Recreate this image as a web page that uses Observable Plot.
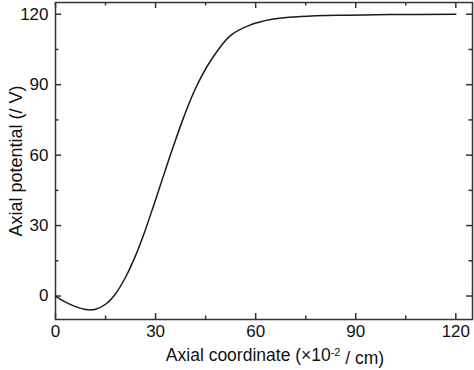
<!DOCTYPE html>
<html>
<head>
<meta charset="utf-8">
<script src="https://cdn.jsdelivr.net/npm/d3@7"></script>
<script src="https://cdn.jsdelivr.net/npm/@observablehq/plot@0.6"></script>
<style>
  html, body { margin: 0; padding: 0; background: #fff; }
  #chart { width: 474px; height: 370px; }
</style>
</head>
<body>
<div id="chart"></div>
<script>
// Data
const axialCoordinate = [0, 3, 6, 9, 10.5, 12, 15, 18, 21, 24, 26.5, 29.5, 32.5, 35, 38.5, 42, 46.5, 52.5, 58.5, 64.5, 73.5, 87.5, 100, 120];
const axialPotential  = [0, -2.6, -4.5, -5.7, -5.9, -5.6, -3.5, 1.0, 8.0, 17.2, 26.4, 38.9, 51.8, 62.4, 76.4, 88.5, 100.2, 111, 115.5, 117.8, 119, 119.6, 119.85, 120];

const xTicks = [0, 30, 60, 90, 120];
const xMinorTicks = [15, 45, 75, 105];
const yTicks = [0, 30, 60, 90, 120];
const yMinorTicks = [15, 45, 75, 105];

const xLabel = "Axial coordinate (×10-2 / cm)";
const yLabel = "Axial potential (/ V)";

const data = axialCoordinate.map((x, i) => ({x, y: axialPotential[i]}));

const W = 474, H = 370;
const mL = 55, mR = 2, mT = 2, mB = 51;
const innerW = W - mL - mR, innerH = H - mT - mB;
const ink = "#333";

const chart = Plot.plot({
  width: W, height: H,
  marginLeft: mL, marginRight: mR, marginTop: mT, marginBottom: mB,
  style: {fontFamily: "'Liberation Sans', Arial, sans-serif", fontSize: "17px", color: "#111", background: "#fff"},
  x: {domain: [0, 125], label: null},
  y: {domain: [-10, 125], label: null},
  marks: [
    // inward ticks, bottom & top
    Plot.tickX(xTicks, {x: d => d, stroke: ink, strokeWidth: 1.5, insetTop: innerH - 6}),
    Plot.tickX(xMinorTicks, {x: d => d, stroke: ink, strokeWidth: 1.5, insetTop: innerH - 3.5}),
    Plot.tickX(xTicks, {x: d => d, stroke: ink, strokeWidth: 1.5, insetBottom: innerH - 6}),
    Plot.tickX(xMinorTicks, {x: d => d, stroke: ink, strokeWidth: 1.5, insetBottom: innerH - 3.5}),
    // inward ticks, left & right
    Plot.tickY(yTicks, {y: d => d, stroke: ink, strokeWidth: 1.5, insetRight: innerW - 6}),
    Plot.tickY(yMinorTicks, {y: d => d, stroke: ink, strokeWidth: 1.5, insetRight: innerW - 3.5}),
    Plot.tickY(yTicks, {y: d => d, stroke: ink, strokeWidth: 1.5, insetLeft: innerW - 6}),
    Plot.tickY(yMinorTicks, {y: d => d, stroke: ink, strokeWidth: 1.5, insetLeft: innerW - 3.5}),
    Plot.axisX({ticks: xTicks, tickSize: 0, tickPadding: 5, fontSize: 17, label: null}),
    Plot.axisY({ticks: yTicks, tickSize: 0, tickPadding: 7, fontSize: 17, label: null}),
    Plot.frame({stroke: ink, strokeWidth: 1.5}),
    Plot.line(data, {x: "x", y: "y", curve: "catmull-rom", stroke: "#1a1a1a", strokeWidth: 1.5}),
    Plot.text([xLabel], {text: d => d, frameAnchor: "bottom", dy: 41, dx: 11, fontSize: 17.5, fill: "#111"}),
    Plot.text([yLabel], {text: d => d, frameAnchor: "left", textAnchor: "middle", rotate: -90, dx: -39, fontSize: 18, fill: "#111"})
  ]
});

// superscript exponent in the x label
d3.select(chart).selectAll("text").each(function() {
  if (this.textContent === xLabel) {
    const t = d3.select(this);
    t.text(null);
    t.append("tspan").text("Axial coordinate (×10");
    t.append("tspan").attr("dy", "-0.45em").attr("font-size", "0.62em").text("-2");
    t.append("tspan").attr("dy", "0.45em").text(" / cm)");
  }
});

document.getElementById("chart").appendChild(chart);
</script>
</body>
</html>
